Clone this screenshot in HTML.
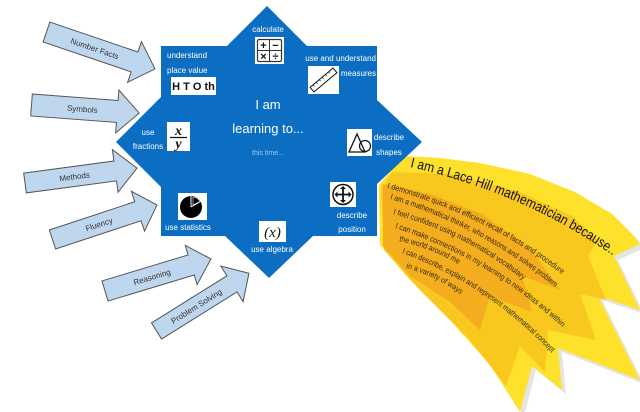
<!DOCTYPE html>
<html><head><meta charset="utf-8"><style>
html,body{margin:0;padding:0;background:#fff;width:640px;height:412px;overflow:hidden}
svg{display:block}
.w{font-family:"Liberation Sans",sans-serif;fill:#fff;font-size:8px}
.al{font-family:"Liberation Sans",sans-serif;fill:#333;font-size:8px}
.bt{font-family:"Liberation Sans",sans-serif;fill:#3a2a08;font-size:8px}
</style></head><body>
<svg width="640" height="412" viewBox="0 0 640 412" xmlns="http://www.w3.org/2000/svg">
<!-- yellow tail -->
<polygon fill="#e4e4e4" points="408,160 444,162 484,167 534,178 579,196 616,218 638,240 644,248 618,260 644,314 602,300 644,384 562,352 566,394 536,370 524,416 494,369 454,324 414,284 384,249 383,189"/>
<polygon fill="#fde12a" points="404,156 440,158 480,163 530,174 575,192 612,214 634,236 640,244 614,256 640,310 598,296 640,380 558,348 562,390 532,366 520,412 490,365 450,320 410,280 380,245 379,185"/>
<polygon fill="#f9c81f" points="392,172 450,174 520,192 572,216 598,240 588,256 606,300 580,294 596,340 548,330 545,372 520,346 506,386 470,340 420,290 384,250 381,190"/>
<polygon fill="#f3ad1f" points="383,184 430,194 482,214 530,248 560,290 522,276 532,312 490,296 480,330 450,302 410,276 383,246"/>
<!-- star -->
<polygon fill="#0b6ec2" points="161,46 227,46 267,6 307,46 377,46 377,100 422,142 377,184 377,236 313,236 269,278 225,236 161,236 161,187 116,142 161,97"/>
<!-- arrows -->
<g fill="#bed7ee" stroke="#555" stroke-width="1">
<g transform="translate(46.5,32) rotate(18.8)"><path d="M0,-10.5 L93,-10.5 L93,-21.5 L114.6,0 L93,21.5 L93,10.5 L0,10.5 Z"/><text class="al" x="51" y="3" text-anchor="middle" stroke="none">Number Facts</text></g>
<g transform="translate(31.5,105) rotate(4.3)"><path d="M0,-11 L86,-11 L86,-21.5 L108,0 L86,21.5 L86,11 L0,11 Z"/><text class="al" x="51" y="3" text-anchor="middle" stroke="none">Symbols</text></g>
<g transform="translate(25,183) rotate(-7.6)"><path d="M0,-10 L91,-10 L91,-21.5 L113,0 L91,21.5 L91,10 L0,10 Z"/><text class="al" x="50" y="3" text-anchor="middle" stroke="none">Methods</text></g>
<g transform="translate(52.5,239.5) rotate(-18.3)"><path d="M0,-10 L90,-10 L90,-21 L110,0 L90,21 L90,10 L0,10 Z"/><text class="al" x="49" y="3" text-anchor="middle" stroke="none">Fluency</text></g>
<g transform="translate(105,291) rotate(-16.8)"><path d="M0,-10.5 L90,-10.5 L90,-20.5 L110.7,0 L90,20.5 L90,10.5 L0,10.5 Z"/><text class="al" x="49" y="3" text-anchor="middle" stroke="none">Reasoning</text></g>
<g transform="translate(156.5,331) rotate(-32)"><path d="M0,-9.5 L89,-9.5 L89,-21 L109,0 L89,21 L89,9.5 L0,9.5 Z"/><text class="al" x="47" y="3" text-anchor="middle" stroke="none">Problem Solving</text></g>
</g>
<!-- star texts -->
<text class="w" x="268" y="32" text-anchor="middle">calculate</text>
<text class="w" x="167" y="58">understand</text>
<text class="w" x="167" y="73">place value</text>
<text class="w" x="376" y="61" text-anchor="end">use and understand</text>
<text class="w" x="376" y="76" text-anchor="end">measures</text>
<text class="w" x="148" y="135" text-anchor="middle">use</text>
<text class="w" x="148" y="149" text-anchor="middle">fractions</text>
<text class="w" x="389" y="140" text-anchor="middle">describe</text>
<text class="w" x="389" y="155" text-anchor="middle">shapes</text>
<text class="w" x="352" y="218" text-anchor="middle">describe</text>
<text class="w" x="352" y="232" text-anchor="middle">position</text>
<text class="w" x="272" y="252" text-anchor="middle">use algebra</text>
<text class="w" x="188" y="230" text-anchor="middle">use statistics</text>
<text class="w" x="268" y="109" text-anchor="middle" style="font-size:13px">I am</text>
<text class="w" x="268" y="133" text-anchor="middle" style="font-size:13px">learning to...</text>
<text class="w" x="268" y="155" text-anchor="middle" style="font-size:7px;fill:#a3c9ee">this time...</text>
<!-- icons -->
<rect x="255" y="37" width="29" height="27" fill="#fff"/>
<rect x="257.5" y="39.5" width="24" height="22" rx="1.5" fill="none" stroke="#333" stroke-width="1.2"/>
<line x1="269.5" y1="39.5" x2="269.5" y2="61.5" stroke="#333" stroke-width="1"/>
<line x1="257.5" y1="50.5" x2="281.5" y2="50.5" stroke="#333" stroke-width="1"/>
<g font-family="Liberation Sans, DejaVu Sans, sans-serif" font-weight="bold" font-size="11" fill="#111" text-anchor="middle">
<text x="263.5" y="49">+</text><text x="275.5" y="49">−</text><text x="263.5" y="60">×</text><text x="275.5" y="60">÷</text></g>
<rect x="171" y="77" width="45" height="18" fill="#fff"/>
<text x="193.5" y="90" text-anchor="middle" font-family="Liberation Sans, sans-serif" font-weight="bold" font-size="11" fill="#111">H T O th</text>
<rect x="308" y="66" width="31" height="28" fill="#fff"/>
<g transform="translate(323.5,80) rotate(-40)"><rect x="-15" y="-3" width="30" height="6" fill="#fff" stroke="#111" stroke-width="1"/>
<path d="M-11,-3v2M-7,-3v2M-3,-3v2M1,-3v2M5,-3v2M9,-3v2" stroke="#111" stroke-width="0.7"/></g>
<rect x="167" y="122" width="23" height="29" fill="#fff"/>
<text x="178.5" y="135" text-anchor="middle" font-family="Liberation Serif, serif" font-style="italic" font-weight="bold" font-size="14" fill="#111">x</text>
<line x1="170" y1="137.5" x2="187" y2="137.5" stroke="#111" stroke-width="1.2"/>
<text x="178.5" y="148" text-anchor="middle" font-family="Liberation Serif, serif" font-style="italic" font-weight="bold" font-size="14" fill="#111">y</text>
<rect x="347" y="129" width="25" height="27" fill="#fff"/>
<path d="M349,152 L357,134 L365,152 Z" fill="none" stroke="#111" stroke-width="1.3"/>
<circle cx="365" cy="146" r="5.5" fill="none" stroke="#111" stroke-width="1.2"/>
<rect x="330" y="182" width="26" height="25" fill="#fff"/>
<circle cx="343" cy="194.5" r="10" fill="none" stroke="#111" stroke-width="1.5"/>
<path d="M336,194.5H350M343,187.5V201.5" stroke="#111" stroke-width="1.8"/>
<path d="M334.5,194.5l3,-3v6zM351.5,194.5l-3,-3v6zM343,186l-3,3h6zM343,203l-3,-3h6z" fill="#111"/>
<rect x="259" y="221" width="27" height="21" fill="#fff"/>
<text x="272.5" y="237" text-anchor="middle" font-family="Liberation Serif, serif" font-style="italic" font-size="15" fill="#111">(x)</text>
<rect x="178" y="193" width="29" height="27" fill="#fff"/>
<circle cx="191" cy="207" r="11" fill="#000"/>
<path d="M191,207V196M191,207L200.5,201.5" stroke="#fff" stroke-width="1"/>
<path d="M193,205L193,197A10,10 0 0 1 200,201.5Z" fill="none" stroke="#fff" stroke-width="0.6"/>
<!-- tail text -->
<defs>
<path id="t0" d="M410,167 Q524,193 612,255"/>
<path id="l1" d="M387,188 Q484,214 563,275"/>
<path id="l2" d="M390,199 Q481,226 556,288"/>
<path id="l3" d="M393,214 Q464,233 522,279"/>
<path id="l4" d="M395,228 Q486,257 561,326"/>
<path id="l5" d="M399,241 Q431,248 458,264"/>
<path id="l6" d="M402,253 Q485,283 553,354"/>
<path id="l7" d="M406,268 Q436,276 460,294"/>
</defs>
<text font-family="Liberation Sans, sans-serif" font-size="14" fill="#111"><textPath href="#t0" textLength="226" lengthAdjust="spacingAndGlyphs">I am a Lace Hill mathematician because...</textPath></text>
<text class="bt"><textPath href="#l1" textLength="200" lengthAdjust="spacingAndGlyphs">I demonstrate quick and efficient recall of facts and procedures</textPath></text>
<text class="bt"><textPath href="#l2" textLength="192" lengthAdjust="spacingAndGlyphs">I am a mathematical thinker, who reasons and solves problems</textPath></text>
<text class="bt"><textPath href="#l3" textLength="147" lengthAdjust="spacingAndGlyphs">I feel confident using mathematical vocabulary</textPath></text>
<text class="bt"><textPath href="#l4" textLength="196" lengthAdjust="spacingAndGlyphs">I can make connections in my learning to new ideas and within</textPath></text>
<text class="bt"><textPath href="#l5" textLength="64" lengthAdjust="spacingAndGlyphs">the world around me</textPath></text>
<text class="bt"><textPath href="#l6" textLength="185" lengthAdjust="spacingAndGlyphs">I can describe, explain and represent mathematical concepts</textPath></text>
<text class="bt"><textPath href="#l7" textLength="61" lengthAdjust="spacingAndGlyphs">in a variety of ways</textPath></text>
</svg>
</body></html>
